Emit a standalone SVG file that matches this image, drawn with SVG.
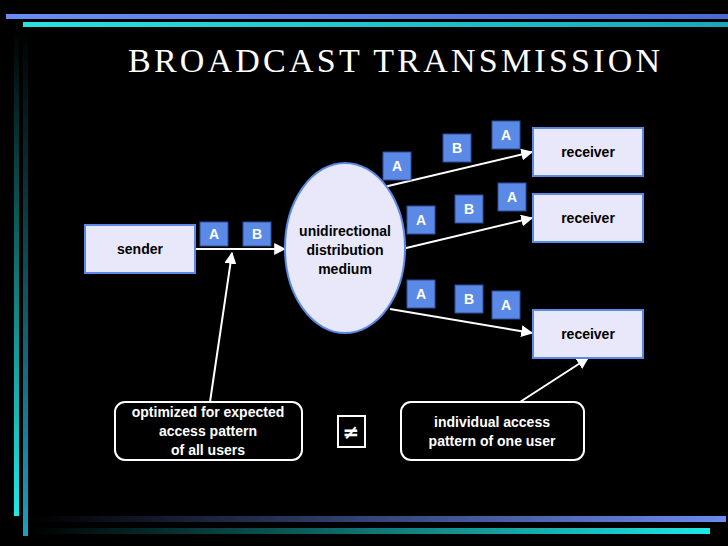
<svg xmlns="http://www.w3.org/2000/svg" width="728" height="546" viewBox="0 0 728 546">
<defs>
<linearGradient id="gb" x1="0" x2="1"><stop offset="0" stop-color="#000"/><stop offset="1" stop-color="#6a8cf0"/></linearGradient>
<linearGradient id="gc" x1="0" x2="1"><stop offset="0" stop-color="#000"/><stop offset="1" stop-color="#1ee8e8"/></linearGradient>
<linearGradient id="gv" x1="0" y1="0" x2="0" y2="1"><stop offset="0" stop-color="#000"/><stop offset="1" stop-color="#1ee8e8"/></linearGradient>
<linearGradient id="gv2" x1="0" y1="0" x2="0" y2="1"><stop offset="0" stop-color="#000"/><stop offset="1" stop-color="#1a9fc0"/></linearGradient>
<linearGradient id="gt" x1="0" x2="1"><stop offset="0" stop-color="#6a8cf0"/><stop offset="1" stop-color="#4a6ad0"/></linearGradient>
<linearGradient id="gt2" x1="0" x2="1"><stop offset="0" stop-color="#2ae0e0"/><stop offset="1" stop-color="#1aa8b8"/></linearGradient>
<marker id="ar" viewBox="0 0 10 10" refX="9" refY="5" markerWidth="6" markerHeight="6" orient="auto"><path d="M0,0L10,5L0,10z" fill="#fff"/></marker>
<style>
.pk{fill:#5b8ae6;stroke:#2a4fa0;stroke-width:1}
.pt{font-family:"Liberation Sans",Arial,sans-serif;font-weight:bold;font-size:14px;fill:#fff;text-anchor:middle}
.bx{fill:#e8e8fa;stroke:#5b8ae6;stroke-width:2}
.bt{font-family:"Liberation Sans",Arial,sans-serif;font-weight:bold;font-size:14px;fill:#000;text-anchor:middle}
.nt{fill:#000;stroke:#fff;stroke-width:2}
.wt{font-family:"Liberation Sans",Arial,sans-serif;font-weight:bold;font-size:14px;fill:#fff;text-anchor:middle}
.ln{stroke:#fff;stroke-width:2;fill:none;marker-end:url(#ar)}
</style>
</defs>
<rect width="728" height="546" fill="#000"/>
<rect x="6" y="14" width="722" height="5" fill="url(#gt)"/>
<rect x="23" y="22" width="705" height="5" fill="url(#gt2)"/>
<rect x="14" y="30" width="5" height="486" fill="url(#gv)"/>
<rect x="23" y="30" width="5" height="506" fill="url(#gv2)"/>
<rect x="30" y="516" width="696" height="6" fill="url(#gb)"/>
<rect x="30" y="528" width="680" height="6" fill="url(#gc)"/>
<text x="394" y="72" font-family="Liberation Serif,serif" font-size="34" fill="#fff" text-anchor="middle" textLength="532" lengthAdjust="spacing">BROADCAST TRANSMISSION</text>
<g id="connectors">
<line class="ln" x1="384" y1="187" x2="532" y2="152"/>
<line class="ln" x1="402" y1="249" x2="532" y2="218"/>
<line class="ln" x1="390" y1="309" x2="532" y2="333"/>
<line class="ln" x1="195" y1="249" x2="285" y2="249"/>
<line class="ln" x1="210" y1="402" x2="232" y2="253"/>
<line class="ln" x1="520" y1="402" x2="588" y2="358"/>
</g>
<g id="sender"><rect class="bx" x="85" y="225" width="110" height="48"/><text class="bt" x="140" y="254">sender</text></g>
<g id="medium"><ellipse cx="345" cy="248" rx="60" ry="85" fill="#e8e8fa" stroke="#5b8ae6" stroke-width="2"/>
<text class="bt" x="345" y="236">unidirectional</text><text class="bt" x="345" y="255">distribution</text><text class="bt" x="345" y="274">medium</text></g>
<g id="receiver1"><rect class="bx" x="533" y="128" width="110" height="48"/><text class="bt" x="588" y="157">receiver</text></g>
<g id="receiver2"><rect class="bx" x="533" y="194" width="110" height="48"/><text class="bt" x="588" y="223">receiver</text></g>
<g id="receiver3"><rect class="bx" x="533" y="310" width="110" height="48"/><text class="bt" x="588" y="339">receiver</text></g>
<g id="packets">
<rect class="pk" x="200" y="222" width="28" height="24"/><text class="pt" x="214" y="239">A</text>
<rect class="pk" x="243" y="222" width="28" height="24"/><text class="pt" x="257" y="239">B</text>
<rect class="pk" x="383" y="152" width="28" height="28"/><text class="pt" x="397" y="171">A</text>
<rect class="pk" x="443" y="134" width="28" height="28"/><text class="pt" x="457" y="153">B</text>
<rect class="pk" x="492" y="121" width="28" height="28"/><text class="pt" x="506" y="140">A</text>
<rect class="pk" x="407" y="206" width="28" height="28"/><text class="pt" x="421" y="225">A</text>
<rect class="pk" x="455" y="195" width="28" height="28"/><text class="pt" x="469" y="214">B</text>
<rect class="pk" x="498" y="183" width="28" height="28"/><text class="pt" x="512" y="202">A</text>
<rect class="pk" x="407" y="280" width="28" height="28"/><text class="pt" x="421" y="299">A</text>
<rect class="pk" x="455" y="285" width="28" height="28"/><text class="pt" x="469" y="304">B</text>
<rect class="pk" x="492" y="291" width="28" height="28"/><text class="pt" x="506" y="310">A</text>
</g>
<g id="note1"><rect class="nt" x="115" y="402" width="187" height="58" rx="10"/>
<text class="wt" x="208" y="417">optimized for expected</text><text class="wt" x="208" y="436">access pattern</text><text class="wt" x="208" y="455">of all users</text></g>
<g id="neq"><rect class="nt" x="338" y="416" width="27" height="31"/><text x="351" y="439" font-family="DejaVu Sans,sans-serif" font-size="20" font-weight="bold" fill="#fff" text-anchor="middle">≠</text></g>
<g id="note2"><rect class="nt" x="401" y="402" width="183" height="58" rx="10"/>
<text class="wt" x="492" y="427">individual access</text><text class="wt" x="492" y="446">pattern of one user</text></g>
</svg>
